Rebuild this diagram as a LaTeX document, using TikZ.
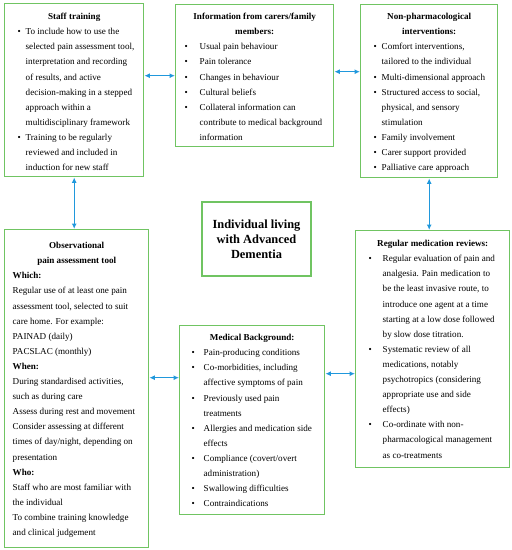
\documentclass[tikz,border=0pt]{standalone}
\usepackage{fontspec}
\setmainfont{Liberation Serif}
\usetikzlibrary{arrows.meta}
\definecolor{boxgreen}{RGB}{112,196,98}
\definecolor{arrblue}{RGB}{32,152,220}
\newlength\bulloff
\newlength\textoff
\newcommand\bitem[1]{\par\noindent\hangindent=\textoff\hangafter=1\makebox[\textoff][l]{\hspace{\bulloff}\textbullet}\strut{\let\\\newline#1}\par}
\newcommand\btitle[1]{{\centering\bfseries\strut#1\par}}
\newcommand\bodyfont{\fontsize{9.1}{15.1}\selectfont}
\newcommand\boxcontent[6]{\begin{minipage}[t][#2][t]{#1}\bodyfont\raggedright\setlength\bulloff{#3}\setlength\textoff{#4}\vspace*{#5}#6\end{minipage}}
\tikzset{
  box/.style={draw=boxgreen, line width=1.4pt, fill=white, inner sep=0pt, anchor=north west},
  arr/.style={draw=arrblue, line width=1.2pt, {Latex[length=5.5pt,width=5pt]}-{Latex[length=5.5pt,width=5pt]}}
}
\begin{document}
\begin{tikzpicture}[x=1pt,y=-1pt]
\fill[white] (0,0) rectangle (512,550);
\useasboundingbox (0,0) rectangle (512,550);

\node[box] (staff) at (4,3) {\boxcontent{139pt}{173pt}{13pt}{21pt}{5.4pt}{%
\btitle{Staff training}
\bitem{To include how to use the\\selected pain assessment tool,\\interpretation and recording\\of results, and active\\decision-making in a stepped\\approach within a\\multidisciplinary framework}
\bitem{Training to be regularly\\reviewed and included in\\induction for new staff}}};

\node[box] (info) at (175,4) {\boxcontent{158pt}{142pt}{9pt}{24pt}{4.4pt}{%
\btitle{Information from carers/family\\members:}
\bitem{Usual pain behaviour}
\bitem{Pain tolerance}
\bitem{Changes in behaviour}
\bitem{Cultural beliefs}
\bitem{Collateral information can\\contribute to medical background\\information}}};

\node[box] (nonph) at (360,4) {\boxcontent{137pt}{173pt}{13pt}{21pt}{4.4pt}{%
\btitle{Non-pharmacological\\interventions:}
\bitem{Comfort interventions,\\tailored to the individual}
\bitem{Multi-dimensional approach}
\bitem{Structured access to social,\\physical, and sensory\\stimulation}
\bitem{Family involvement}
\bitem{Carer support provided}
\bitem{Palliative care approach}}};

\node[draw=boxgreen, line width=1.4pt, fill=white, minimum width=109pt, minimum height=74pt, align=center, inner sep=0pt, font=\fontsize{12.4}{15}\selectfont\bfseries] (center) at (256.5,239) {Individual living\\with Advanced\\Dementia};

\node[box] (obs) at (4,229) {\boxcontent{144pt}{318pt}{0pt}{0pt}{8.4pt}{%
\btitle{Observational\\pain assessment tool}
{\leftskip=8pt\noindent\strut\textbf{Which:}\\
Regular use of at least one pain\\
assessment tool, selected to suit\\
care home. For example:\\
PAINAD (daily)\\
PACSLAC (monthly)\\
\textbf{When:}\\
During standardised activities,\\
such as during care\\
Assess during rest and movement\\
Consider assessing at different\\
times of day/night, depending on\\
presentation\\
\textbf{Who:}\\
Staff who are most familiar with\\
the individual\\
To combine training knowledge\\
and clinical judgement\par}}};

\node[box] (med) at (179,325) {\boxcontent{145pt}{189pt}{12pt}{24pt}{4.4pt}{%
\btitle{Medical Background:}
\bitem{Pain-producing conditions}
\bitem{Co-morbidities, including\\affective symptoms of pain}
\bitem{Previously used pain\\treatments}
\bitem{Allergies and medication side\\effects}
\bitem{Compliance (covert/overt\\administration)}
\bitem{Swallowing difficulties}
\bitem{Contraindications}}};

\node[box] (reg) at (355,230) {\boxcontent{154pt}{237pt}{13pt}{27pt}{5.4pt}{%
\btitle{Regular medication reviews:}
\bitem{Regular evaluation of pain and\\analgesia. Pain medication to\\be the least invasive route, to\\introduce one agent at a time\\starting at a low dose followed\\by slow dose titration.}
\bitem{Systematic review of all\\medications, notably\\psychotropics (considering\\appropriate use and side\\effects)}
\bitem{Co-ordinate with non-\\pharmacological management\\as co-treatments}}};

\draw[arr] (staff.east |- info.west) -- (info.west);
\draw[arr] ([yshift=4pt]info.east) -- ([yshift=4pt]info.east -| nonph.west);
\draw[arr] (staff.south) -- (staff.south |- obs.north);
\draw[arr] (nonph.south) -- (nonph.south |- reg.north);
\draw[arr] ([yshift=11pt]obs.east) -- ([yshift=11pt]obs.east -| med.west);
\draw[arr] ([yshift=46.5pt]med.east) -- ([yshift=46.5pt]med.east -| reg.west);
\end{tikzpicture}
\end{document}
